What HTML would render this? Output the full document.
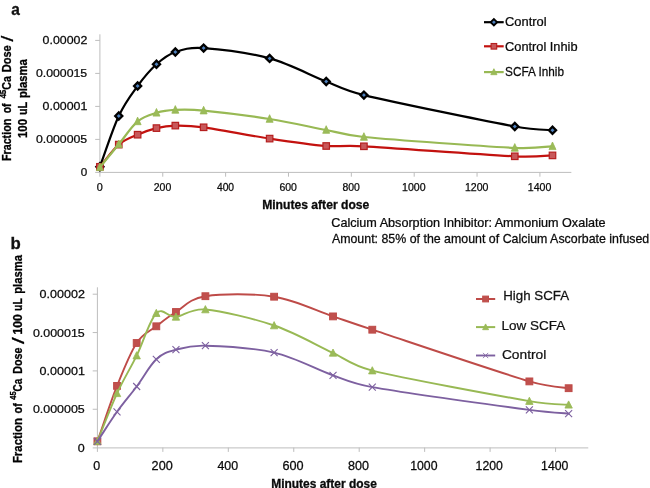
<!DOCTYPE html>
<html lang="en"><head><meta charset="utf-8"><title>Calcium absorption charts</title>
<style>
html,body{margin:0;padding:0;background:#fff;}
body{width:650px;height:488px;overflow:hidden;}
svg{display:block;font-family:"Liberation Sans",sans-serif;}
</style></head><body>
<svg width="650" height="488" viewBox="0 0 650 488">
<rect width="650" height="488" fill="#ffffff"/>
<g stroke="#bdbdbd" stroke-width="1" fill="none" shape-rendering="auto">
<path d="M99.90,34.30 V176.70"/>
<path d="M95.20,172.40 H571.35"/>
<path d="M95.20,139.40 H99.90"/>
<path d="M95.20,106.40 H99.90"/>
<path d="M95.20,73.40 H99.90"/>
<path d="M95.20,40.40 H99.90"/>
<path d="M162.76,172.40 V176.70"/>
<path d="M225.62,172.40 V176.70"/>
<path d="M288.48,172.40 V176.70"/>
<path d="M351.34,172.40 V176.70"/>
<path d="M414.20,172.40 V176.70"/>
<path d="M477.06,172.40 V176.70"/>
<path d="M539.92,172.40 V176.70"/>
</g>
<g stroke="#bdbdbd" stroke-width="1" fill="none" shape-rendering="auto">
<path d="M97.40,287.30 V451.90"/>
<path d="M92.70,447.90 H588.27"/>
<path d="M92.70,409.25 H97.40"/>
<path d="M92.70,370.90 H97.40"/>
<path d="M92.70,332.55 H97.40"/>
<path d="M92.70,294.20 H97.40"/>
<path d="M162.85,447.60 V451.90"/>
<path d="M228.30,447.60 V451.90"/>
<path d="M293.75,447.60 V451.90"/>
<path d="M359.20,447.60 V451.90"/>
<path d="M424.65,447.60 V451.90"/>
<path d="M490.10,447.60 V451.90"/>
<path d="M555.55,447.60 V451.90"/>
</g>
<path d="M99.90,166.70 C106.19,149.80 112.47,129.45 118.76,116.00 C125.04,102.55 131.33,94.62 137.62,86.00 C143.90,77.38 150.19,69.97 156.47,64.30 C162.76,58.63 167.47,54.70 175.33,52.00 C182.45,49.55 189.37,47.13 203.62,48.10 C219.33,49.17 249.19,52.83 269.62,58.40 C290.05,63.97 310.48,75.38 326.20,81.50 C335.95,85.29 344.41,90.45 363.91,95.10 C395.34,102.60 483.35,120.65 514.78,126.50 C533.40,129.97 548.77,129.83 552.49,130.20" fill="none" stroke="#000000" stroke-width="2.2" stroke-linecap="round" stroke-linejoin="round"/>
<path d="M96.35,166.70 L99.90,163.15 L103.45,166.70 L99.90,170.25 Z" fill="#4f81bd" stroke="#000" stroke-width="2.3" stroke-linejoin="miter"/>
<path d="M115.21,116.00 L118.76,112.45 L122.31,116.00 L118.76,119.55 Z" fill="#4f81bd" stroke="#000" stroke-width="2.3" stroke-linejoin="miter"/>
<path d="M134.07,86.00 L137.62,82.45 L141.17,86.00 L137.62,89.55 Z" fill="#4f81bd" stroke="#000" stroke-width="2.3" stroke-linejoin="miter"/>
<path d="M152.92,64.30 L156.47,60.75 L160.02,64.30 L156.47,67.85 Z" fill="#4f81bd" stroke="#000" stroke-width="2.3" stroke-linejoin="miter"/>
<path d="M171.78,52.00 L175.33,48.45 L178.88,52.00 L175.33,55.55 Z" fill="#4f81bd" stroke="#000" stroke-width="2.3" stroke-linejoin="miter"/>
<path d="M200.07,48.10 L203.62,44.55 L207.17,48.10 L203.62,51.65 Z" fill="#4f81bd" stroke="#000" stroke-width="2.3" stroke-linejoin="miter"/>
<path d="M266.07,58.40 L269.62,54.85 L273.17,58.40 L269.62,61.95 Z" fill="#4f81bd" stroke="#000" stroke-width="2.3" stroke-linejoin="miter"/>
<path d="M322.65,81.50 L326.20,77.95 L329.75,81.50 L326.20,85.05 Z" fill="#4f81bd" stroke="#000" stroke-width="2.3" stroke-linejoin="miter"/>
<path d="M360.36,95.10 L363.91,91.55 L367.46,95.10 L363.91,98.65 Z" fill="#4f81bd" stroke="#000" stroke-width="2.3" stroke-linejoin="miter"/>
<path d="M511.23,126.50 L514.78,122.95 L518.33,126.50 L514.78,130.05 Z" fill="#4f81bd" stroke="#000" stroke-width="2.3" stroke-linejoin="miter"/>
<path d="M548.94,130.20 L552.49,126.65 L556.04,130.20 L552.49,133.75 Z" fill="#4f81bd" stroke="#000" stroke-width="2.3" stroke-linejoin="miter"/>
<path d="M99.90,166.80 C106.19,159.40 112.47,149.95 118.76,144.60 C125.04,139.25 131.33,137.45 137.62,134.70 C143.90,131.95 150.19,129.62 156.47,128.10 C162.76,126.58 167.47,125.73 175.33,125.60 C182.35,125.48 189.58,125.36 203.62,127.30 C219.33,129.47 249.19,135.48 269.62,138.60 C290.05,141.72 310.48,144.72 326.20,146.00 C335.61,146.77 345.08,145.27 363.91,146.30 C395.34,148.02 483.35,154.78 514.78,156.30 C533.62,157.21 548.72,155.49 552.49,155.40" fill="none" stroke="#c3120f" stroke-width="2.2" stroke-linecap="round" stroke-linejoin="round"/>
<rect x="96.65" y="163.55" width="6.5" height="6.5" fill="#c8585a" stroke="#b51f1f" stroke-width="1.2"/>
<rect x="115.51" y="141.35" width="6.5" height="6.5" fill="#c8585a" stroke="#b51f1f" stroke-width="1.2"/>
<rect x="134.37" y="131.45" width="6.5" height="6.5" fill="#c8585a" stroke="#b51f1f" stroke-width="1.2"/>
<rect x="153.22" y="124.85" width="6.5" height="6.5" fill="#c8585a" stroke="#b51f1f" stroke-width="1.2"/>
<rect x="172.08" y="122.35" width="6.5" height="6.5" fill="#c8585a" stroke="#b51f1f" stroke-width="1.2"/>
<rect x="200.37" y="124.05" width="6.5" height="6.5" fill="#c8585a" stroke="#b51f1f" stroke-width="1.2"/>
<rect x="266.37" y="135.35" width="6.5" height="6.5" fill="#c8585a" stroke="#b51f1f" stroke-width="1.2"/>
<rect x="322.95" y="142.75" width="6.5" height="6.5" fill="#c8585a" stroke="#b51f1f" stroke-width="1.2"/>
<rect x="360.66" y="143.05" width="6.5" height="6.5" fill="#c8585a" stroke="#b51f1f" stroke-width="1.2"/>
<rect x="511.53" y="153.05" width="6.5" height="6.5" fill="#c8585a" stroke="#b51f1f" stroke-width="1.2"/>
<rect x="549.24" y="152.15" width="6.5" height="6.5" fill="#c8585a" stroke="#b51f1f" stroke-width="1.2"/>
<path d="M99.90,167.30 C106.19,159.63 112.47,151.95 118.76,144.30 C125.04,136.65 131.33,126.65 137.62,121.40 C143.90,116.15 150.19,114.72 156.47,112.80 C162.76,110.88 167.47,110.27 175.33,109.90 C182.37,109.57 189.54,109.24 203.62,110.60 C219.33,112.12 249.19,115.77 269.62,119.00 C290.05,122.23 310.48,127.00 326.20,130.00 C335.74,131.82 344.82,135.19 363.91,137.00 C395.34,139.98 483.35,146.35 514.78,147.90 C533.63,148.83 548.72,146.46 552.49,146.30" fill="none" stroke="#98b954" stroke-width="2.2" stroke-linecap="round" stroke-linejoin="round"/>
<path d="M99.90,163.00 L103.40,170.60 L96.40,170.60 Z" fill="#9bbb59" stroke="#98b954" stroke-width="0.8" stroke-linejoin="miter"/>
<path d="M118.76,140.00 L122.26,147.60 L115.26,147.60 Z" fill="#9bbb59" stroke="#98b954" stroke-width="0.8" stroke-linejoin="miter"/>
<path d="M137.62,117.10 L141.12,124.70 L134.12,124.70 Z" fill="#9bbb59" stroke="#98b954" stroke-width="0.8" stroke-linejoin="miter"/>
<path d="M156.47,108.50 L159.97,116.10 L152.97,116.10 Z" fill="#9bbb59" stroke="#98b954" stroke-width="0.8" stroke-linejoin="miter"/>
<path d="M175.33,105.60 L178.83,113.20 L171.83,113.20 Z" fill="#9bbb59" stroke="#98b954" stroke-width="0.8" stroke-linejoin="miter"/>
<path d="M203.62,106.30 L207.12,113.90 L200.12,113.90 Z" fill="#9bbb59" stroke="#98b954" stroke-width="0.8" stroke-linejoin="miter"/>
<path d="M269.62,114.70 L273.12,122.30 L266.12,122.30 Z" fill="#9bbb59" stroke="#98b954" stroke-width="0.8" stroke-linejoin="miter"/>
<path d="M326.20,125.70 L329.70,133.30 L322.70,133.30 Z" fill="#9bbb59" stroke="#98b954" stroke-width="0.8" stroke-linejoin="miter"/>
<path d="M363.91,132.70 L367.41,140.30 L360.41,140.30 Z" fill="#9bbb59" stroke="#98b954" stroke-width="0.8" stroke-linejoin="miter"/>
<path d="M514.78,143.60 L518.28,151.20 L511.28,151.20 Z" fill="#9bbb59" stroke="#98b954" stroke-width="0.8" stroke-linejoin="miter"/>
<path d="M552.49,142.00 L555.99,149.60 L548.99,149.60 Z" fill="#9bbb59" stroke="#98b954" stroke-width="0.8" stroke-linejoin="miter"/>
<path d="M97.40,441.30 C103.95,422.83 110.49,402.28 117.03,385.90 C123.58,369.52 130.12,352.93 136.67,343.00 C143.22,333.07 149.76,331.47 156.31,326.30 C162.85,321.13 167.76,317.02 175.94,312.00 C184.12,306.98 189.03,298.75 205.39,296.20 C221.75,293.65 252.84,293.33 274.12,296.70 C295.39,300.07 316.66,310.90 333.02,316.40 C342.86,319.71 352.61,323.19 372.29,329.70 C405.01,340.53 496.64,371.65 529.37,381.40 C548.47,387.09 564.82,387.54 568.64,388.20" fill="none" stroke="#be4b48" stroke-width="1.9" stroke-linecap="round" stroke-linejoin="round"/>
<rect x="94.00" y="437.90" width="6.8" height="6.8" fill="#c0504d" stroke="#be4b48" stroke-width="1.0"/>
<rect x="113.63" y="382.50" width="6.8" height="6.8" fill="#c0504d" stroke="#be4b48" stroke-width="1.0"/>
<rect x="133.27" y="339.60" width="6.8" height="6.8" fill="#c0504d" stroke="#be4b48" stroke-width="1.0"/>
<rect x="152.91" y="322.90" width="6.8" height="6.8" fill="#c0504d" stroke="#be4b48" stroke-width="1.0"/>
<rect x="172.54" y="308.60" width="6.8" height="6.8" fill="#c0504d" stroke="#be4b48" stroke-width="1.0"/>
<rect x="201.99" y="292.80" width="6.8" height="6.8" fill="#c0504d" stroke="#be4b48" stroke-width="1.0"/>
<rect x="270.72" y="293.30" width="6.8" height="6.8" fill="#c0504d" stroke="#be4b48" stroke-width="1.0"/>
<rect x="329.62" y="313.00" width="6.8" height="6.8" fill="#c0504d" stroke="#be4b48" stroke-width="1.0"/>
<rect x="368.89" y="326.30" width="6.8" height="6.8" fill="#c0504d" stroke="#be4b48" stroke-width="1.0"/>
<rect x="525.97" y="378.00" width="6.8" height="6.8" fill="#c0504d" stroke="#be4b48" stroke-width="1.0"/>
<rect x="565.24" y="384.80" width="6.8" height="6.8" fill="#c0504d" stroke="#be4b48" stroke-width="1.0"/>
<path d="M97.40,441.30 C103.95,425.30 110.49,407.58 117.03,393.30 C123.58,379.02 130.12,368.95 136.67,355.60 C143.22,342.25 149.76,319.65 156.31,313.20 C162.85,306.75 167.76,317.52 175.94,316.90 C183.50,316.33 190.27,308.17 205.39,309.50 C221.75,310.93 252.84,318.27 274.12,325.50 C295.39,332.73 316.66,345.38 333.02,352.90 C343.48,357.70 351.37,365.47 372.29,370.60 C405.01,378.63 496.64,395.40 529.37,401.10 C548.80,404.48 564.75,404.43 568.64,404.80" fill="none" stroke="#98b954" stroke-width="1.9" stroke-linecap="round" stroke-linejoin="round"/>
<path d="M97.40,437.40 L101.10,444.60 L93.70,444.60 Z" fill="#9bbb59" stroke="#98b954" stroke-width="0.8" stroke-linejoin="miter"/>
<path d="M117.03,389.40 L120.73,396.60 L113.33,396.60 Z" fill="#9bbb59" stroke="#98b954" stroke-width="0.8" stroke-linejoin="miter"/>
<path d="M136.67,351.70 L140.37,358.90 L132.97,358.90 Z" fill="#9bbb59" stroke="#98b954" stroke-width="0.8" stroke-linejoin="miter"/>
<path d="M156.31,309.30 L160.00,316.50 L152.61,316.50 Z" fill="#9bbb59" stroke="#98b954" stroke-width="0.8" stroke-linejoin="miter"/>
<path d="M175.94,313.00 L179.64,320.20 L172.24,320.20 Z" fill="#9bbb59" stroke="#98b954" stroke-width="0.8" stroke-linejoin="miter"/>
<path d="M205.39,305.60 L209.09,312.80 L201.69,312.80 Z" fill="#9bbb59" stroke="#98b954" stroke-width="0.8" stroke-linejoin="miter"/>
<path d="M274.12,321.60 L277.81,328.80 L270.42,328.80 Z" fill="#9bbb59" stroke="#98b954" stroke-width="0.8" stroke-linejoin="miter"/>
<path d="M333.02,349.00 L336.72,356.20 L329.32,356.20 Z" fill="#9bbb59" stroke="#98b954" stroke-width="0.8" stroke-linejoin="miter"/>
<path d="M372.29,366.70 L375.99,373.90 L368.59,373.90 Z" fill="#9bbb59" stroke="#98b954" stroke-width="0.8" stroke-linejoin="miter"/>
<path d="M529.37,397.20 L533.07,404.40 L525.67,404.40 Z" fill="#9bbb59" stroke="#98b954" stroke-width="0.8" stroke-linejoin="miter"/>
<path d="M568.64,400.90 L572.34,408.10 L564.94,408.10 Z" fill="#9bbb59" stroke="#98b954" stroke-width="0.8" stroke-linejoin="miter"/>
<path d="M97.40,441.30 C103.95,431.47 110.49,420.93 117.03,411.80 C123.58,402.67 130.12,395.25 136.67,386.50 C143.22,377.75 149.76,365.43 156.31,359.30 C162.85,353.17 167.76,351.97 175.94,349.70 C183.37,347.64 190.54,345.26 205.39,345.70 C221.75,346.18 252.84,347.67 274.12,352.60 C295.39,357.53 316.66,369.55 333.02,375.30 C343.12,378.85 352.10,383.54 372.29,387.10 C405.01,392.87 496.64,405.48 529.37,409.90 C548.91,412.54 564.73,413.23 568.64,413.60" fill="none" stroke="#7d60a0" stroke-width="1.9" stroke-linecap="round" stroke-linejoin="round"/>
<path d="M93.90,437.80 L100.90,444.80 M93.90,444.80 L100.90,437.80" fill="none" stroke="#7d60a0" stroke-width="1.1"/>
<path d="M113.53,408.30 L120.53,415.30 M113.53,415.30 L120.53,408.30" fill="none" stroke="#7d60a0" stroke-width="1.1"/>
<path d="M133.17,383.00 L140.17,390.00 M133.17,390.00 L140.17,383.00" fill="none" stroke="#7d60a0" stroke-width="1.1"/>
<path d="M152.81,355.80 L159.81,362.80 M152.81,362.80 L159.81,355.80" fill="none" stroke="#7d60a0" stroke-width="1.1"/>
<path d="M172.44,346.20 L179.44,353.20 M172.44,353.20 L179.44,346.20" fill="none" stroke="#7d60a0" stroke-width="1.1"/>
<path d="M201.89,342.20 L208.89,349.20 M201.89,349.20 L208.89,342.20" fill="none" stroke="#7d60a0" stroke-width="1.1"/>
<path d="M270.62,349.10 L277.62,356.10 M270.62,356.10 L277.62,349.10" fill="none" stroke="#7d60a0" stroke-width="1.1"/>
<path d="M329.52,371.80 L336.52,378.80 M329.52,378.80 L336.52,371.80" fill="none" stroke="#7d60a0" stroke-width="1.1"/>
<path d="M368.79,383.60 L375.79,390.60 M368.79,390.60 L375.79,383.60" fill="none" stroke="#7d60a0" stroke-width="1.1"/>
<path d="M525.87,406.40 L532.87,413.40 M525.87,413.40 L532.87,406.40" fill="none" stroke="#7d60a0" stroke-width="1.1"/>
<path d="M565.14,410.10 L572.14,417.10 M565.14,417.10 L572.14,410.10" fill="none" stroke="#7d60a0" stroke-width="1.1"/>
<path d="M484,22.2 H503.7" stroke="#000000" stroke-width="2.2" fill="none"/>
<path d="M490.70,22.20 L493.90,19.00 L497.10,22.20 L493.90,25.40 Z" fill="#4f81bd" stroke="#000" stroke-width="1.9" stroke-linejoin="miter"/>
<path d="M484,46.3 H503.7" stroke="#c3120f" stroke-width="2.2" fill="none"/>
<rect x="491.10" y="43.50" width="5.6" height="5.6" fill="#c8585a" stroke="#b51f1f" stroke-width="1.1"/>
<path d="M484,72.1 H503.7" stroke="#98b954" stroke-width="2.2" fill="none"/>
<path d="M493.90,68.70 L497.00,74.70 L490.80,74.70 Z" fill="#9bbb59" stroke="#98b954" stroke-width="0.8" stroke-linejoin="miter"/>
<path d="M476,299.0 H495.2" stroke="#be4b48" stroke-width="2.0" fill="none"/>
<rect x="482.70" y="296.10" width="5.8" height="5.8" fill="#c0504d" stroke="#be4b48" stroke-width="1.0"/>
<path d="M476,327.1 H495.2" stroke="#98b954" stroke-width="2.0" fill="none"/>
<path d="M485.60,323.90 L488.60,329.70 L482.60,329.70 Z" fill="#9bbb59" stroke="#98b954" stroke-width="0.8" stroke-linejoin="miter"/>
<path d="M476,355.5 H495.2" stroke="#7d60a0" stroke-width="1.9" fill="none"/>
<path d="M483.00,352.90 L488.20,358.10 M483.00,358.10 L488.20,352.90" fill="none" stroke="#7d60a0" stroke-width="0.8"/>
<text transform="translate(11.24,15.00) scale(0.9489,1)" font-size="16.30" font-weight="bold" fill="#111" stroke="#111" stroke-width="0.3">a</text>
<text transform="translate(10.52,249.20) scale(1.0304,1)" font-size="16.30" font-weight="bold" fill="#111" stroke="#111" stroke-width="0.3">b</text>
<text transform="translate(80.63,176.35) scale(1.0470,1)" font-size="11.14" font-weight="normal" fill="#0a0a0a" stroke="#0a0a0a" stroke-width="0.25">0</text>
<text transform="translate(35.91,143.35) scale(1.1037,1)" font-size="11.14" font-weight="normal" fill="#0a0a0a" stroke="#0a0a0a" stroke-width="0.25">0.000005</text>
<text transform="translate(42.60,110.35) scale(1.1116,1)" font-size="11.14" font-weight="normal" fill="#0a0a0a" stroke="#0a0a0a" stroke-width="0.25">0.00001</text>
<text transform="translate(35.91,77.35) scale(1.1037,1)" font-size="11.14" font-weight="normal" fill="#0a0a0a" stroke="#0a0a0a" stroke-width="0.25">0.000015</text>
<text transform="translate(42.60,44.35) scale(1.1116,1)" font-size="11.14" font-weight="normal" fill="#0a0a0a" stroke="#0a0a0a" stroke-width="0.25">0.00002</text>
<text transform="translate(96.67,190.80) scale(1.0248,1)" font-size="10.57" font-weight="normal" fill="#0a0a0a" stroke="#0a0a0a" stroke-width="0.25">0</text>
<text transform="translate(153.73,190.80) scale(0.9938,1)" font-size="10.57" font-weight="normal" fill="#0a0a0a" stroke="#0a0a0a" stroke-width="0.25">200</text>
<text transform="translate(216.91,190.80) scale(0.9753,1)" font-size="10.57" font-weight="normal" fill="#0a0a0a" stroke="#0a0a0a" stroke-width="0.25">400</text>
<text transform="translate(279.45,190.80) scale(0.9938,1)" font-size="10.57" font-weight="normal" fill="#0a0a0a" stroke="#0a0a0a" stroke-width="0.25">600</text>
<text transform="translate(342.42,190.80) scale(0.9876,1)" font-size="10.57" font-weight="normal" fill="#0a0a0a" stroke="#0a0a0a" stroke-width="0.25">800</text>
<text transform="translate(402.05,190.80) scale(1.0000,1)" font-size="10.57" font-weight="normal" fill="#0a0a0a" stroke="#0a0a0a" stroke-width="0.25">1000</text>
<text transform="translate(464.91,190.80) scale(1.0000,1)" font-size="10.57" font-weight="normal" fill="#0a0a0a" stroke="#0a0a0a" stroke-width="0.25">1200</text>
<text transform="translate(527.77,190.80) scale(1.0000,1)" font-size="10.57" font-weight="normal" fill="#0a0a0a" stroke="#0a0a0a" stroke-width="0.25">1400</text>
<text transform="translate(262.15,209.40) scale(0.9974,1)" font-size="12.17" font-weight="bold" fill="#0a0a0a" stroke="#0a0a0a" stroke-width="0.3">Minutes after dose</text>
<text transform="translate(11.30,160.30) rotate(-90) translate(-0.75,0) scale(0.9033,1)" font-size="11.88" font-weight="bold" fill="#000" stroke="#000" stroke-width="0.3">Fraction</text>
<text transform="translate(11.30,112.90) rotate(-90) translate(-0.41,0) scale(0.8695,1)" font-size="11.88" font-weight="bold" fill="#000" stroke="#000" stroke-width="0.3">of</text>
<text transform="translate(11.30,98.50) rotate(-90) translate(-0.11,0) scale(0.8931,1)" font-size="11.88" font-weight="bold" fill="#000" stroke="#000" stroke-width="0.3"><tspan font-size="76%" dy="-0.59em">45</tspan><tspan dy="0.4484em">Ca</tspan></text>
<text transform="translate(11.30,71.50) rotate(-90) translate(-0.77,0) scale(0.9314,1)" font-size="11.88" font-weight="bold" fill="#000" stroke="#000" stroke-width="0.3">Dose</text>
<text transform="translate(12.50,41.50) rotate(-90) translate(-0.00,0) scale(1.3113,1)" font-size="15.80" font-weight="normal" fill="#000" stroke="#000" stroke-width="0.25">/</text>
<text transform="translate(26.90,137.30) rotate(-90) translate(-0.68,0) scale(0.9594,1)" font-size="11.88" font-weight="bold" fill="#000" stroke="#000" stroke-width="0.3">100</text>
<text transform="translate(26.90,114.40) rotate(-90) translate(-0.65,0) scale(0.9085,1)" font-size="11.88" font-weight="bold" fill="#000" stroke="#000" stroke-width="0.3">uL</text>
<text transform="translate(26.90,97.30) rotate(-90) translate(-0.79,0) scale(0.9510,1)" font-size="11.88" font-weight="bold" fill="#000" stroke="#000" stroke-width="0.3">plasma</text>
<text transform="translate(505.06,25.80) scale(1.0467,1)" font-size="12.32" font-weight="normal" fill="#0a0a0a" stroke="#0a0a0a" stroke-width="0.25">Control</text>
<text transform="translate(505.06,50.50) scale(1.0387,1)" font-size="12.32" font-weight="normal" fill="#0a0a0a" stroke="#0a0a0a" stroke-width="0.25">Control Inhib</text>
<text transform="translate(505.11,75.60) scale(0.9556,1)" font-size="12.32" font-weight="normal" fill="#0a0a0a" stroke="#0a0a0a" stroke-width="0.25">SCFA Inhib</text>
<text transform="translate(331.27,227.20) scale(1.0631,1)" font-size="11.88" font-weight="normal" fill="#0a0a0a" stroke="#0a0a0a" stroke-width="0.25">Calcium Absorption Inhibitor: Ammonium Oxalate</text>
<text transform="translate(331.90,243.40) scale(1.0304,1)" font-size="12.03" font-weight="normal" fill="#0a0a0a" stroke="#0a0a0a" stroke-width="0.25">Amount: 85% of the amount of Calcium Ascorbate infused</text>
<text transform="translate(77.70,451.70) scale(1.0802,1)" font-size="11.57" font-weight="normal" fill="#0a0a0a" stroke="#0a0a0a" stroke-width="0.25">0</text>
<text transform="translate(32.90,413.35) scale(1.0734,1)" font-size="11.57" font-weight="normal" fill="#0a0a0a" stroke="#0a0a0a" stroke-width="0.25">0.000005</text>
<text transform="translate(39.60,375.00) scale(1.0827,1)" font-size="11.57" font-weight="normal" fill="#0a0a0a" stroke="#0a0a0a" stroke-width="0.25">0.00001</text>
<text transform="translate(32.90,336.65) scale(1.0734,1)" font-size="11.57" font-weight="normal" fill="#0a0a0a" stroke="#0a0a0a" stroke-width="0.25">0.000015</text>
<text transform="translate(39.60,298.30) scale(1.0827,1)" font-size="11.57" font-weight="normal" fill="#0a0a0a" stroke="#0a0a0a" stroke-width="0.25">0.00002</text>
<text transform="translate(93.30,469.70) scale(1.0294,1)" font-size="12.14" font-weight="normal" fill="#0a0a0a" stroke="#0a0a0a" stroke-width="0.25">0</text>
<text transform="translate(151.62,469.70) scale(1.0424,1)" font-size="12.14" font-weight="normal" fill="#0a0a0a" stroke="#0a0a0a" stroke-width="0.25">200</text>
<text transform="translate(217.45,469.70) scale(1.0230,1)" font-size="12.14" font-weight="normal" fill="#0a0a0a" stroke="#0a0a0a" stroke-width="0.25">400</text>
<text transform="translate(282.52,469.70) scale(1.0424,1)" font-size="12.14" font-weight="normal" fill="#0a0a0a" stroke="#0a0a0a" stroke-width="0.25">600</text>
<text transform="translate(348.10,469.70) scale(1.0359,1)" font-size="12.14" font-weight="normal" fill="#0a0a0a" stroke="#0a0a0a" stroke-width="0.25">800</text>
<text transform="translate(410.17,469.70) scale(1.0118,1)" font-size="12.14" font-weight="normal" fill="#0a0a0a" stroke="#0a0a0a" stroke-width="0.25">1000</text>
<text transform="translate(475.62,469.70) scale(1.0118,1)" font-size="12.14" font-weight="normal" fill="#0a0a0a" stroke="#0a0a0a" stroke-width="0.25">1200</text>
<text transform="translate(541.07,469.70) scale(1.0118,1)" font-size="12.14" font-weight="normal" fill="#0a0a0a" stroke="#0a0a0a" stroke-width="0.25">1400</text>
<text transform="translate(271.16,487.80) scale(0.9851,1)" font-size="12.17" font-weight="bold" fill="#0a0a0a" stroke="#0a0a0a" stroke-width="0.3">Minutes after dose</text>
<text transform="translate(22.00,462.30) rotate(-90) translate(-0.80,0) scale(0.9055,1)" font-size="12.61" font-weight="bold" fill="#000" stroke="#000" stroke-width="0.3">Fraction</text>
<text transform="translate(22.00,413.00) rotate(-90) translate(-0.43,0) scale(0.8548,1)" font-size="12.61" font-weight="bold" fill="#000" stroke="#000" stroke-width="0.3">of</text>
<text transform="translate(22.00,399.70) rotate(-90) translate(-0.10,0) scale(0.7856,1)" font-size="12.61" font-weight="bold" fill="#000" stroke="#000" stroke-width="0.3"><tspan font-size="76%" dy="-0.59em">45</tspan><tspan dy="0.4484em">Ca</tspan></text>
<text transform="translate(22.00,373.10) rotate(-90) translate(-0.75,0) scale(0.8507,1)" font-size="12.61" font-weight="bold" fill="#000" stroke="#000" stroke-width="0.3">Dose</text>
<text transform="translate(22.00,333.70) rotate(-90) translate(-0.73,0) scale(0.9649,1)" font-size="12.61" font-weight="bold" fill="#000" stroke="#000" stroke-width="0.3">100</text>
<text transform="translate(22.00,310.30) rotate(-90) translate(-0.62,0) scale(0.8212,1)" font-size="12.61" font-weight="bold" fill="#000" stroke="#000" stroke-width="0.3">uL</text>
<text transform="translate(22.00,293.00) rotate(-90) translate(-0.79,0) scale(0.8917,1)" font-size="12.61" font-weight="bold" fill="#000" stroke="#000" stroke-width="0.3">plasma</text>
<text transform="translate(24.00,344.10) rotate(-90) translate(-0.00,0) scale(1.5010,1)" font-size="15.94" font-weight="normal" fill="#000" stroke="#000" stroke-width="0.25">/</text>
<text transform="translate(503.23,299.50) scale(0.9892,1)" font-size="13.48" font-weight="normal" fill="#111" stroke="#111" stroke-width="0.25">High SCFA</text>
<text transform="translate(501.52,330.30) scale(0.9994,1)" font-size="13.48" font-weight="normal" fill="#111" stroke="#111" stroke-width="0.25">Low SCFA</text>
<text transform="translate(501.91,359.10) scale(1.0211,1)" font-size="13.48" font-weight="normal" fill="#111" stroke="#111" stroke-width="0.25">Control</text>
</svg>
</body></html>
